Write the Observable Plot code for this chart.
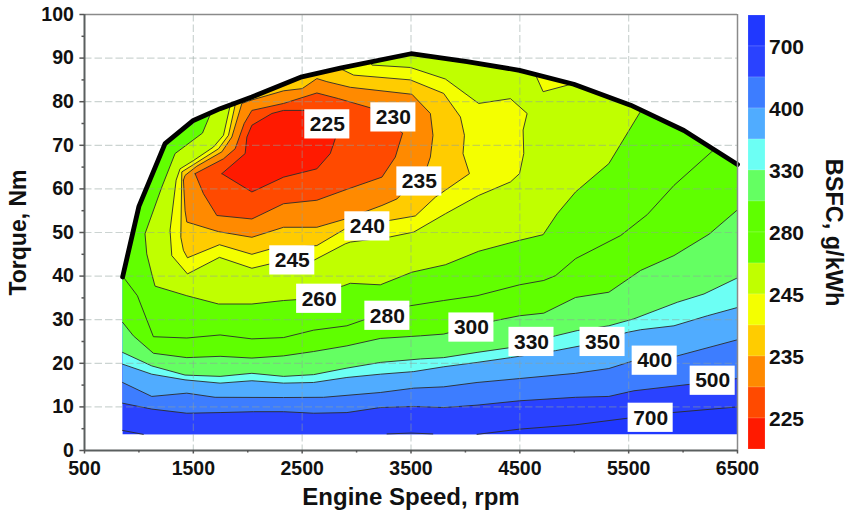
<!DOCTYPE html>
<html>
<head>
<meta charset="utf-8">
<script src="https://cdn.jsdelivr.net/npm/d3@7"></script>
<script src="https://cdn.jsdelivr.net/npm/@observablehq/plot@0.6"></script>
<style>
html,body{margin:0;padding:0;background:#fff;}
#wrap{position:relative;width:850px;height:517px;overflow:hidden;}
#wrap svg{overflow:visible;}
#legend{position:absolute;left:748px;top:0;}
</style>
</head>
<body>
<div id="wrap"><div id="main"></div><div id="legend"></div></div>
<script>
const levels = [700,500,400,350,330,300,280,260,245,240,235,230,225];
const bandColors = ["#2038ff","#2a42ff","#3d7dff","#50acff","#6cfff4","#64ff62","#5fff00","#62ff00","#c0ff00","#f4ff00","#ffcc00","#ff8a00","#ff4a00","#ff1a00"];

const envelope = [[850,39.8],[1000,56],[1240,70.4],[1500,75.7],[1746,78.4],[2038,81.1],[2497,85.7],[2850,87.7],[3500,91],[4015,89.2],[4497,87.2],[4996,84],[5518,79.2],[6008,73.4],[6500,65.6]];
const floorTorque = 3.7;

const c700a = [[850,4.6],[1040,3.7]];
const c700b = [[4107,3.7],[4497,4.9],[5012,5.9],[5487,7.4],[5901,8.7],[6500,10]];
const c700c = [[3280,3.8],[3500,4],[3700,3.8]];
const c500 = [[850,10.85],[1118,9.5],[1440,8.55],[1746,8.7],[2053,8.9],[2329,8.9],[2605,8.55],[2911,8.7],[3218,9.85],[3525,10.1],[3800,9.85],[4107,10.4],[4497,11.4],[5012,12.2],[5318,12.4],[5548,13.7],[6069,15.2],[6500,16.5]];
const c400 = [[850,15.6],[1118,12.4],[1440,13.15],[1700,12.2],[2329,12.15],[2697,12.2],[3218,13.3],[3525,14.3],[3800,14.6],[4107,15.6],[4497,16.5],[5012,17.7],[5318,18.8],[5548,20.6],[5947,21.7],[6500,25.4]];
const c350 = [[850,19.8],[1118,17.5],[1424,16.2],[1746,15.45],[2038,16],[2329,15.45],[2605,15.6],[2911,16.75],[3218,17.5],[3525,18.1],[3800,19.2],[4107,20.2],[4414,21.3],[4828,22.9],[5058,24],[5487,27.1],[5610,27.7],[5916,28.6],[6223,30.9],[6500,32.8]];
const c330 = [[850,22.5],[1118,19.4],[1424,17.3],[1746,17],[2038,17.7],[2329,17],[2605,17.4],[2911,18.9],[3218,20.2],[3586,21],[3800,21.3],[4107,22.5],[4414,23.6],[4828,26.3],[5027,27.5],[5318,28.6],[5548,30.2],[5947,34],[6192,35.9],[6500,39.6]];
const c300 = [[850,29.4],[949,26.3],[1133,22.3],[1440,21.3],[1746,21.6],[2038,21.2],[2329,21.7],[2605,22.7],[2911,24],[3218,25.7],[3586,26.3],[3800,26.7],[3862,27.1],[4276,29.8],[4497,30.9],[4720,31.5],[5012,35.1],[5318,36.3],[5610,41.3],[5916,44.7],[6238,49.6],[6500,55.2]];
const c280 = [[850,40],[986,35.5],[1133,26.1],[1440,25.8],[1746,26.5],[2038,25.6],[2329,25.9],[2605,27.6],[2911,28.6],[3095,30.2],[3494,33.2],[3800,34.4],[4107,35.5],[4497,38],[4720,39],[4828,40.1],[5012,44],[5426,49.3],[5671,54.1],[5916,60.8],[6284,69]];
const c260 = [[1654,77],[1584,72.8],[1332,68.1],[1210,60.4],[1056,49.7],[1072,45.1],[1118,40.5],[1148,37.7],[1440,35.5],[1731,33.6],[2038,33.6],[2329,34.4],[2451,34.6],[2881,37.8],[2942,38.35],[3218,38],[3509,40.9],[3816,42.6],[4122,45.7],[4497,48.2],[4714,49.5],[4843,54.3],[5012,59.3],[5318,65.8],[5615,78]];
const c245 = [[1840,79.3],[1777,72.3],[1685,69.6],[1501,66.5],[1378,64.6],[1342,62],[1286,50.5],[1302,44.7],[1446,40.5],[1740,44.3],[2038,41.8],[2206,42.8],[2605,43.6],[2896,47.4],[2942,47.8],[3310,49],[3525,50.1],[3816,54.3],[4122,58.5],[4414,61.6],[4497,63.5],[4536,68.1],[4530,73.5],[4567,77.3],[4414,80.7],[4122,79.6],[3816,85.2],[3494,87.85],[3141,88.4],[3130,89]];
const c245island = [[4640,86.4],[4714,82.3],[4985,84.1]];
const c240 = [[1890,79.9],[1823,72.3],[1731,69.2],[1516,65.8],[1394,63.9],[1385,48.9],[1409,45.9],[1446,44.2],[1740,47.2],[2038,45],[2206,46.2],[2635,47],[2896,50.85],[3310,52.8],[3540,53.8],[3724,58.1],[3816,59.7],[4037,63.5],[3978,68.1],[3991,72.3],[3954,76.5],[3800,81.9],[3494,85],[2973,86.1],[2865,87.4]];
const c235 = [[1409,62],[1424,63.1],[1532,65.2],[1762,68.5],[1854,71.9],[1946,79.6],[2038,80.4],[2329,82.5],[2500,83],[2635,85.3],[2727,84.6],[2942,83.3],[3509,81.7],[3678,77.3],[3702,72.3],[3678,67.3],[3647,65],[3371,57.7],[3233,56.2],[2911,53.2],[2635,51.2],[2329,51.2],[2038,48.9],[1731,50.2],[1440,52.4],[1424,55],[1409,62]];
const c230 = [[1516,63.5],[1777,66.9],[1884,69.2],[1967,75],[2038,78],[2329,79.6],[2635,82],[2835,80.7],[3126,78.6],[3423,72.8],[3356,67.3],[3233,62.7],[2911,59.9],[2635,57.4],[2329,56.6],[2038,53.1],[1716,53.9],[1593,58.9],[1516,63.5]];
const c225 = [[1762,63.5],[1976,68.1],[1992,71.9],[2038,74.6],[2222,77.3],[2329,78],[2528,78],[2760,76],[2804,71.5],[2758,68.1],[2635,64.6],[2329,62.7],[2038,59.3],[1762,63.5]];

const labelValues = ["225","230","235","240","245","260","280","300","330","350","400","500","700"];
const labelRpm    = [2731,3338,3577,3099,2409,2656,3283,4055,4607,5260,5739,6272,5702];
const labelTorque = [74.8,76.4,61.7,51.4,43.6,34.8,30.9,28.2,24.9,24.9,20.6,16,7.5];

const xMajor = [500,1500,2500,3500,4500,5500,6500];
const xMinor = [1000,2000,3000,4000,5000,6000];
const yMajor = [0,10,20,30,40,50,60,70,80,90,100];
const yMinor = [5,15,25,35,45,55,65,75,85,95];

// close an open contour along the top boundary of the map
function closeAbove(points) {
  const lo = points[0][0], hi = points[points.length - 1][0];
  const top = envelope.filter(p => p[0] >= Math.min(lo, hi) && p[0] <= Math.max(lo, hi)).reverse();
  return points.concat(top);
}
const regions = [
  {band: 0, pts: [[850, floorTorque],[6500, floorTorque], ...envelope.slice().reverse()]},
  {band: 1, pts: closeAbove([...c700a, ...c700b])},
  {band: 2, pts: closeAbove(c500)},
  {band: 3, pts: closeAbove(c400)},
  {band: 4, pts: closeAbove(c350)},
  {band: 5, pts: closeAbove(c330)},
  {band: 6, pts: closeAbove(c300)},
  {band: 7, pts: closeAbove(c280)},
  {band: 8, pts: closeAbove(c260)},
  {band: 9, pts: closeAbove(c245)},
  {band: 9, pts: c245island},
  {band: 10, pts: closeAbove(c240)},
  {band: 11, pts: c235},
  {band: 12, pts: c230},
  {band: 13, pts: c225}
];
const regionRows = regions.flatMap((r, id) => r.pts.map(p => ({id, band: r.band, rpm: p[0], torque: p[1]})));
const contourRows = [c700a,c700b,c700c,c500,c400,c350,c330,c300,c280,c260,c245,c245island,c240,c235,c230,c225]
  .flatMap((c, id) => c.map(p => ({id, rpm: p[0], torque: p[1]})));
const labels = labelValues.map((t, i) => ({t, rpm: labelRpm[i], torque: labelTorque[i]}));
const bandDomain = bandColors.map((_, i) => i);
const colorScale = {type: "ordinal", domain: bandDomain, range: bandColors};
const font = "'Liberation Sans', Arial, sans-serif";
const gridStyle = {stroke: "#8fa09c", strokeOpacity: 0.45, strokeWidth: 1.2, strokeDasharray: "7.5,3"};

const chart = Plot.plot({
  width: 850, height: 517,
  marginLeft: 84, marginRight: 113, marginTop: 14, marginBottom: 67,
  style: {fontFamily: font, fontWeight: "bold", fontSize: "19.5px", color: "#111", background: "#fff", overflow: "visible"},
  x: {domain: [500, 6500]},
  y: {domain: [0, 100]},
  color: colorScale,
  marks: [
    Plot.line(regionRows, {x: "rpm", y: "torque", z: "id", fill: "band", stroke: "none"}),
    Plot.line(contourRows, {x: "rpm", y: "torque", z: "id", stroke: "#2b2b2b", strokeWidth: 0.9}),
    Plot.ruleX(xMajor.slice(1, -1), gridStyle),
    Plot.ruleY(yMajor.slice(1, -1), gridStyle),
    Plot.line(envelope, {x: d => d[0], y: d => d[1], stroke: "#000", strokeWidth: 4.8}),
    Plot.ruleY([100], {stroke: "#8a8a8a", strokeWidth: 1.5}),
    Plot.ruleX([6500], {stroke: "#8a8a8a", strokeWidth: 1.5}),
    Plot.ruleX([500], {stroke: "#5a5f5f", strokeWidth: 2}),
    Plot.ruleY([0], {stroke: "#5a5f5f", strokeWidth: 2}),
    Plot.axisX({ticks: xMajor, tickSize: 3.5, tickPadding: 7, stroke: "#555", strokeWidth: 1.5, label: null, tickFormat: d => String(d)}),
    Plot.axisX({ticks: xMinor, tickSize: 2.5, stroke: "#555", strokeWidth: 1.5, label: null, tickFormat: () => ""}),
    Plot.axisY({ticks: yMajor, tickSize: 4.6, tickPadding: 6, stroke: "#555", strokeWidth: 1.5, label: null, tickFormat: d => String(d)}),
    Plot.axisY({ticks: yMinor, tickSize: 2.5, stroke: "#555", strokeWidth: 1.5, label: null, tickFormat: () => ""}),
    Plot.rect(labels, {x1: d => d.rpm - 207, x2: d => d.rpm + 207, y1: d => d.torque - 3.35, y2: d => d.torque + 3.35, fill: "#fff"}),
    Plot.text(labels, {x: "rpm", y: "torque", text: "t", fontSize: 21, fontWeight: "bold", fill: "#111"}),
    Plot.text(["Engine Speed, rpm"], {frameAnchor: "bottom", textAnchor: "middle", dy: 54, fontSize: 24, fontWeight: "bold", fill: "#111"}),
    Plot.text(["Torque, Nm"], {frameAnchor: "left", textAnchor: "middle", dx: -66, rotate: -90, fontSize: 23, fontWeight: "bold", fill: "#111"})
  ]
});
document.getElementById("main").appendChild(chart);

const bandRows = bandDomain.map(i => ({band: i}));
const legendTicks = [1,3,5,7,9,11,13].map(i => ({i, t: String(levels[i - 1])}));
const legend = Plot.plot({
  width: 102, height: 517,
  marginLeft: 0, marginRight: 85, marginTop: 15, marginBottom: 68,
  style: {fontFamily: font, fontWeight: "bold", background: "transparent", overflow: "visible", color: "#111"},
  x: {domain: [0, 1], axis: null},
  y: {domain: [14, 0], axis: null},
  color: colorScale,
  marks: [
    Plot.rect(bandRows, {x1: 0, x2: 1, y1: d => d.band, y2: d => d.band + 1, fill: "band", stroke: "#fff", strokeOpacity: 0.25, strokeWidth: 0.6}),
    Plot.text(legendTicks, {x: 1, y: "i", text: "t", textAnchor: "start", dx: 3.5, dy: 1, fontSize: 21, fontWeight: "bold", fill: "#111"}),
    Plot.text(["BSFC, g/kWh"], {frameAnchor: "left", textAnchor: "middle", dx: 85, rotate: 90, fontSize: 23.5, fontWeight: "bold", fill: "#111"})
  ]
});
document.getElementById("legend").appendChild(legend);
</script>
</body>
</html>
